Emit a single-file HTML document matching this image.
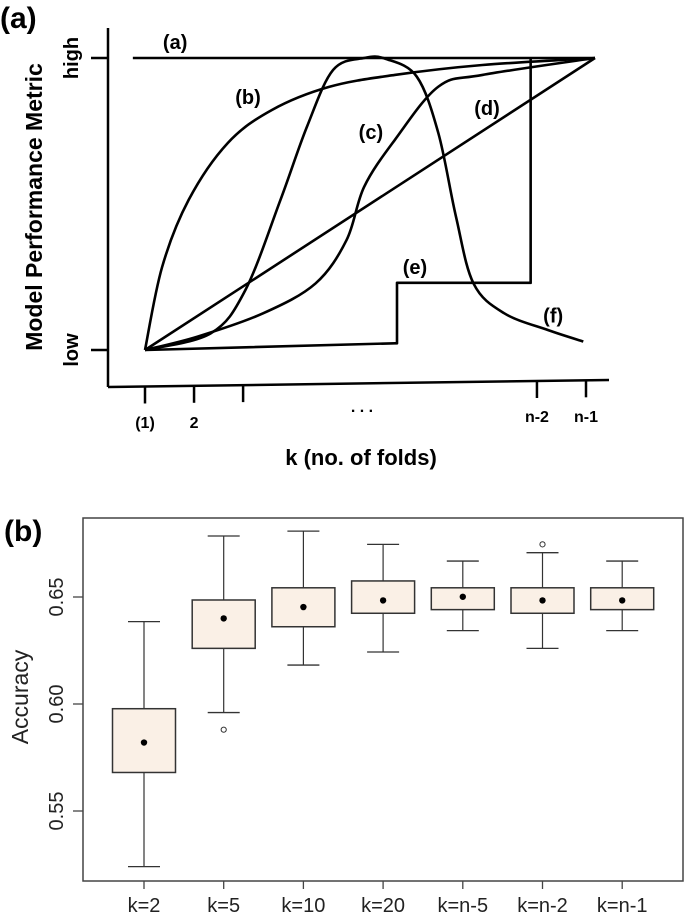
<!DOCTYPE html>
<html><head><meta charset="utf-8"><style>
html,body{margin:0;padding:0;background:#fff}
svg{display:block}
.b{font-family:"Liberation Sans",sans-serif;font-weight:bold;fill:#000}
.t{font-family:"Liberation Sans",sans-serif;fill:#222}
</style></head><body>
<svg id="fig" width="685" height="913" viewBox="0 0 685 913" xmlns="http://www.w3.org/2000/svg">
<g id="topPanel">
<text class="b" x="0" y="28" font-size="30">(a)</text>
<line x1="108" y1="28" x2="108" y2="387" stroke="#000" stroke-width="2.5"/>
<line x1="108" y1="387" x2="609" y2="380" stroke="#000" stroke-width="2.5"/>
<line x1="91" y1="58" x2="108" y2="58" stroke="#000" stroke-width="2.5"/>
<line x1="91" y1="350" x2="108" y2="350" stroke="#000" stroke-width="2.5"/>
<text class="b" transform="translate(78,58) rotate(-90)" text-anchor="middle" font-size="20">high</text>
<text class="b" transform="translate(78,350) rotate(-90)" text-anchor="middle" font-size="20">low</text>
<text class="b" transform="translate(42,207) rotate(-90)" text-anchor="middle" font-size="23">Model Performance Metric</text>
<text class="b" x="361" y="465" text-anchor="middle" font-size="22">k (no. of folds)</text>
<text class="b" x="362" y="412" text-anchor="middle" font-size="16">. . .</text>
</g>
<g id="bottomPanel">
<text class="b" x="4" y="541" font-size="30">(b)</text>
<rect x="83" y="518" width="600" height="363" fill="none" stroke="#444" stroke-width="1.5"/>
<text class="t" transform="translate(28,697) rotate(-90)" text-anchor="middle" font-size="23">Accuracy</text>
</g>
</svg>
<script>
// ---------- Panel (a) schematic curves (data units 0..1) ----------
const curveA = [[-0.027,1],[1,1]];
const curveB = [[0,0],[0.038,0.284],[0.097,0.514],[0.184,0.709],[0.282,0.822],[0.409,0.901],[0.555,0.942],[0.75,0.976],[1,1]];
const curveC = [[0,0],[0.117,0.046],[0.263,0.126],[0.379,0.228],[0.448,0.377],[0.487,0.559],[0.555,0.719],[0.652,0.902],[0.75,0.942],[1,1]];
const curveD = [[0,0],[1,1]];
const curveE = [[0,0],[0.555,0.023],[0.56,0.023],[0.56,0.23],[0.857,0.23],[0.857,1]];
const curveF = [[0,0],[0.146,0.057],[0.223,0.205],[0.301,0.514],[0.36,0.765],[0.418,0.959],[0.487,1],[0.535,0.997],[0.604,0.936],[0.652,0.742],[0.691,0.457],[0.73,0.228],[0.798,0.126],[0.896,0.068],[0.974,0.029]];
const curveLabels = ["(a)","(b)","(c)","(d)","(e)","(f)"];
const labelPos = [[0.067,1.055],[0.229,0.867],[0.502,0.747],[0.76,0.829],[0.6,0.285],[0.907,0.118]];
const xTickLabelsA = ["(1)","2","","n-2","n-1"];
const xTickPosA = [0,0.109,0.218,0.871,0.98];

// ---------- Panel (b) boxplot ----------
const categories = ["k=2","k=5","k=10","k=20","k=n-5","k=n-2","k=n-1"];
const whiskerHigh = [0.6385,0.6785,0.6808,0.6746,0.6668,0.6707,0.6668];
const q3 = [0.5978,0.6486,0.6543,0.6575,0.6543,0.6543,0.6543];
const means = [0.582,0.640,0.6453,0.6484,0.6501,0.6484,0.6484];
const q1 = [0.568,0.626,0.6361,0.6424,0.6441,0.6424,0.6441];
const whiskerLow = [0.524,0.596,0.6182,0.6243,0.6343,0.626,0.6343];
const outliers = [[],[0.588],[],[],[],[0.6746],[]];
const yTicksB = [0.55,0.60,0.65];
const yTickLabelsB = ["0.55","0.60","0.65"];

const NS="http://www.w3.org/2000/svg";
function mk(tag,attrs,parent){const e=document.createElementNS(NS,tag);for(const k in attrs)e.setAttribute(k,attrs[k]);parent.appendChild(e);return e;}

const ax=x=>145+450*x, ay=y=>350-292*y;
function smooth(pts){
  const p=pts.map(q=>[ax(q[0]),ay(q[1])]);
  let d="M"+p[0][0]+","+p[0][1];
  for(let i=0;i<p.length-1;i++){
    const p0=p[i-1]||p[i],p1=p[i],p2=p[i+1],p3=p[i+2]||p[i+1];
    const c1=[p1[0]+(p2[0]-p0[0])/6,p1[1]+(p2[1]-p0[1])/6];
    const c2=[p2[0]-(p3[0]-p1[0])/6,p2[1]-(p3[1]-p1[1])/6];
    d+=" C"+c1[0]+","+c1[1]+" "+c2[0]+","+c2[1]+" "+p2[0]+","+p2[1];
  }
  return d;
}
function poly(pts){return "M"+pts.map(q=>ax(q[0])+","+ay(q[1])).join(" L");}
const topG=document.getElementById('topPanel');
const curves=[[curveA,false,'curve-a'],[curveB,true,'curve-b'],[curveC,true,'curve-c'],[curveD,false,'curve-d'],[curveE,false,'curve-e'],[curveF,true,'curve-f']];
curves.forEach(c=>{
  const el=mk('path',{d:c[1]?smooth(c[0]):poly(c[0]),fill:'none',stroke:'#000','stroke-width':2.6,'stroke-linejoin':'round'},topG);
  
  
});
curveLabels.forEach((t,i)=>{
  const el=mk('text',{x:ax(labelPos[i][0]),y:ay(labelPos[i][1])+7,'text-anchor':'middle','font-size':20,class:'b'},topG);
  el.textContent=t;
  
  
});
xTickPosA.forEach((x,i)=>{
  const px=ax(x), base=387-7*(px-108)/501;
  const el=mk('line',{x1:px,y1:base,x2:px,y2:base+17,stroke:'#000','stroke-width':2.5},topG);
  
  
  if(xTickLabelsA[i]){
    const t=mk('text',{x:px,y:i<2?428:422,'text-anchor':'middle','font-size':16,class:'b'},topG);
    t.textContent=xTickLabelsA[i];
    
    
  }
});

const bx=i=>144+i*79.7, by=v=>597+(0.65-v)*2140;
const botG=document.getElementById('bottomPanel');
yTicksB.forEach((v,i)=>{
  const l=mk('line',{x1:73,y1:by(v),x2:83,y2:by(v),stroke:'#444','stroke-width':1.3},botG);
  
  
  const t=mk('text',{transform:`translate(63,${by(v)}) rotate(-90)`,'text-anchor':'middle','font-size':20,class:'t'},botG);
  t.textContent=yTickLabelsB[i];
  
  
});
categories.forEach((c,i)=>{
  const x=bx(i);
  const g=mk('g',{},botG);
  
  
  mk('line',{x1:x,y1:by(whiskerHigh[i]),x2:x,y2:by(q3[i]),stroke:'#333','stroke-width':1.2},g);
  mk('line',{x1:x,y1:by(q1[i]),x2:x,y2:by(whiskerLow[i]),stroke:'#333','stroke-width':1.2},g);
  mk('line',{x1:x-16,y1:by(whiskerHigh[i]),x2:x+16,y2:by(whiskerHigh[i]),stroke:'#333','stroke-width':1.3},g);
  mk('line',{x1:x-16,y1:by(whiskerLow[i]),x2:x+16,y2:by(whiskerLow[i]),stroke:'#333','stroke-width':1.3},g);
  mk('rect',{x:x-31.5,y:by(q3[i]),width:63,height:by(q1[i])-by(q3[i]),fill:'#faf0e6',stroke:'#333','stroke-width':1.5},g);
  mk('circle',{cx:x,cy:by(means[i]),r:3.2,fill:'#000'},g);
  outliers[i].forEach(o=>{mk('circle',{cx:x,cy:by(o),r:2.6,fill:'#fff',stroke:'#333','stroke-width':1},g);});
  const tk=mk('line',{x1:x,y1:881,x2:x,y2:889,stroke:'#444','stroke-width':1.3},botG);
  
  
  const t=mk('text',{x:x,y:912,'text-anchor':'middle','font-size':20,class:'t'},botG);
  t.textContent=c;
  
  
});
</script>
</body></html>
